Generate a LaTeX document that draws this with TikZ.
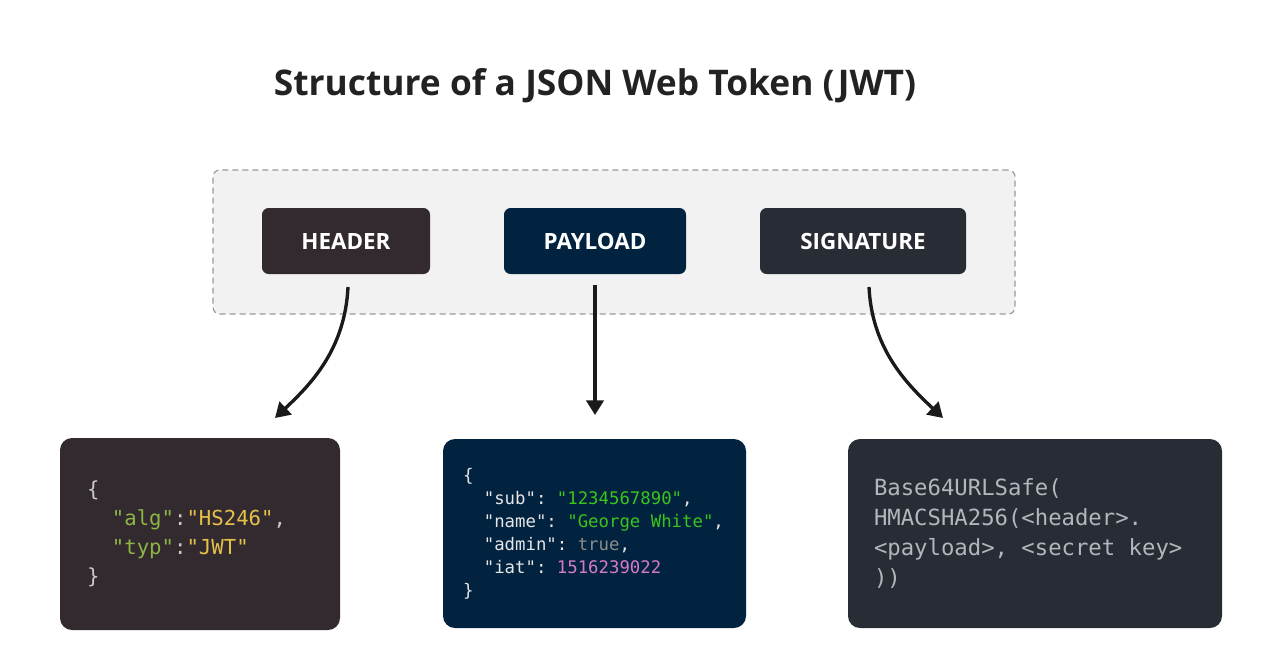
\documentclass[tikz,border=0pt]{standalone}
\usepackage{fontspec}
\setmainfont{Open Sans}
\setmonofont{DejaVu Sans Mono}
\usetikzlibrary{arrows.meta,calc}

\definecolor{titlec}{HTML}{222222}
\definecolor{tokenbg}{HTML}{F2F2F2}
\definecolor{tokenln}{HTML}{9A9A9A}
\definecolor{headc}{HTML}{332A30}
\definecolor{loadc}{HTML}{01233F}
\definecolor{signc}{HTML}{282C34}
\definecolor{punct}{HTML}{C9C9C9}
\definecolor{hkey}{HTML}{8DB544}
\definecolor{hval}{HTML}{E6C14A}
\definecolor{pkey}{HTML}{E6E6E6}
\definecolor{pstr}{HTML}{3BC41B}
\definecolor{pbool}{HTML}{8C8C8C}
\definecolor{pnum}{HTML}{D67AC8}
\definecolor{stext}{HTML}{B2B6BD}
\definecolor{linkc}{HTML}{1A1A1A}

\newcommand\jind{\hspace*{1.204em}}

\begin{document}
\begin{tikzpicture}[x=0.75pt,y=-0.75pt,
	partbox/.style={rounded corners=5pt, minimum height=49.5pt, inner sep=0pt,
		text=white, font=\bfseries\fontsize{16.8}{19}\selectfont},
	codebox/.style={rounded corners=9pt, inner sep=0pt},
	codetext/.style={anchor=west, align=left, inner sep=0pt},
	link/.style={draw=linkc, line width=2.5pt, -{Triangle[length=11pt,width=13pt]}}]
	\useasboundingbox (0,0) rectangle (1280,669);

	% title
	\node[text=titlec, font=\bfseries\fontsize{26.5}{32}\selectfont] (title) at (595,86)
		{Structure of a JSON Web Token (JWT)};

	% the token and its three parts
	\node[draw=tokenln, fill=tokenbg, dash pattern=on 4.5pt off 3pt, line width=0.9pt,
		rounded corners=5pt, minimum width=601.5pt, minimum height=108pt] (token) at (614,242) {};
	\node[partbox, fill=headc, minimum width=126pt] (header) at (346,241) {HEADER};
	\node[partbox, fill=loadc, minimum width=136.5pt] (payload) at (595,241) {PAYLOAD};
	\node[partbox, fill=signc, minimum width=154.5pt] (signature) at (863,241) {SIGNATURE};

	% decoded parts
	\node[codebox, fill=headc, minimum width=210pt, minimum height=144pt] (hcode) at (200,534) {};
	\node[codebox, fill=loadc, minimum width=227.25pt, minimum height=141.75pt] (pcode) at (594.5,533.5) {};
	\node[codebox, fill=signc, minimum width=280.5pt, minimum height=141.75pt] (scode) at (1035,533.5) {};

	\node[codetext, text=punct, font=\ttfamily\fontsize{15.5}{21.75}\selectfont]
		(htext) at ($(hcode.west)+(27,0)$)
		{\{\\
		\jind\textcolor{hkey}{"alg"}:\textcolor{hval}{"HS246"},\\
		\jind\textcolor{hkey}{"typ"}:\textcolor{hval}{"JWT"}\\
		\}};
	\node[codetext, text=pkey, font=\ttfamily\fontsize{13}{17.25}\selectfont]
		(ptext) at ($(pcode.west)+(20,0)$)
		{\{\\
		\jind"sub": \textcolor{pstr}{"1234567890"},\\
		\jind"name": \textcolor{pstr}{"George White"},\\
		\jind"admin": \textcolor{pbool}{true},\\
		\jind"iat": \textcolor{pnum}{1516239022}\\
		\}};
	\node[codetext, text=stext, font=\ttfamily\fontsize{16.7}{22.5}\selectfont]
		(stext) at ($(scode.west)+(26,0)$)
		{Base64URLSafe(\\
		HMACSHA256(<header>.\\
		<payload>, <secret key>\\
		))};

	% arrows
	\coordinate (hs) at (348,287); \coordinate (he) at (275,418);
	\coordinate (ps) at (595,285); \coordinate (pe) at (595,415);
	\coordinate (ss) at (869,287); \coordinate (se) at (943,418);
	\draw[link] (hs) .. controls +(-3,63) and +(35,-33) .. (he);
	\draw[link] (ps) -- (pe);
	\draw[link] (ss) .. controls +(3,63) and +(-35,-33) .. (se);
\end{tikzpicture}
\end{document}
